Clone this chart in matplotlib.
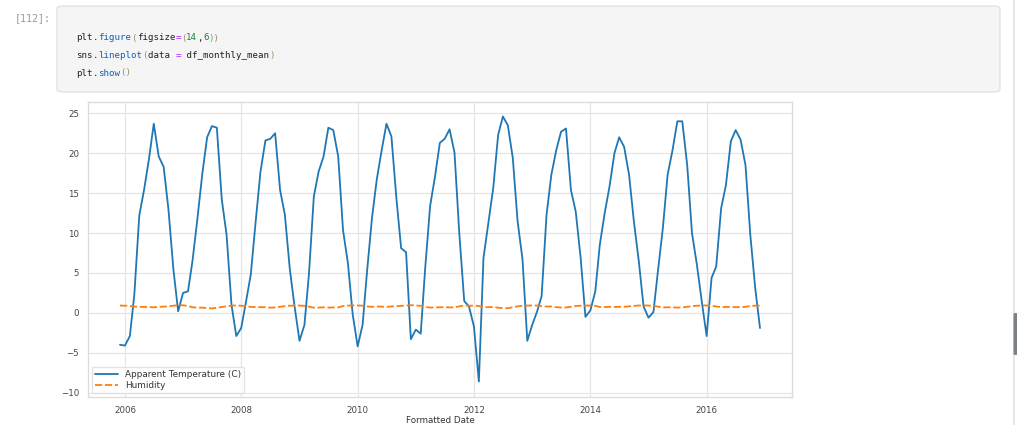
import matplotlib.dates as mdates
import matplotlib.patches as patches
import matplotlib.pyplot as plt
import pandas as pd
import seaborn as sns

# monthly means, Dec 2005 .. Dec 2016 (month start)
start_month = "2005-12-01"
end_month = "2016-12-01"

apparent_temp = [
    -4.0,
    -4.1, -2.9, 2.3, 12.2, 15.4, 19.3, 23.7, 19.6, 18.3, 13.0, 5.5, 0.2,  # 2006
    2.5, 2.7, 6.5, 11.8, 17.3, 22.0, 23.4, 23.2, 14.2, 9.8, 1.0, -2.9,  # 2007
    -1.9, 1.5, 4.8, 11.5, 17.7, 21.6, 21.8, 22.5, 15.4, 12.3, 5.5, 0.8,  # 2008
    -3.5, -1.5, 4.8, 14.6, 17.7, 19.6, 23.2, 22.9, 19.6, 10.4, 6.2, -0.2,  # 2009
    -4.2, -1.5, 5.2, 11.9, 16.7, 20.4, 23.7, 22.1, 14.4, 8.1, 7.6, -3.3,  # 2010
    -2.1, -2.6, 5.6, 13.4, 17.0, 21.3, 21.8, 23.0, 20.1, 10.0, 1.5, 0.8,  # 2011
    -1.7, -8.6, 6.9, 11.3, 15.6, 22.3, 24.6, 23.5, 19.4, 11.5, 6.7, -3.5,  # 2012
    -1.5, 0.2, 2.1, 12.3, 17.3, 20.4, 22.7, 23.1, 15.4, 12.7, 6.9, -0.5,  # 2013
    0.3, 2.7, 8.5, 12.5, 15.8, 20.0, 22.0, 20.8, 17.3, 11.5, 6.5, 0.8,  # 2014
    -0.6, 0.1, 5.2, 10.6, 17.3, 20.4, 24.0, 24.0, 18.5, 10.0, 6.0, 1.5,  # 2015
    -2.9, 4.4, 5.8, 13.1, 16.0, 21.5, 22.9, 21.7, 18.5, 9.8, 3.1, -1.9,  # 2016
]

humidity = [
    0.92,
    0.90, 0.86, 0.80, 0.76, 0.75, 0.73, 0.70, 0.76, 0.78, 0.82, 0.90, 0.95,  # 2006
    0.95, 0.86, 0.70, 0.66, 0.66, 0.60, 0.56, 0.63, 0.74, 0.82, 0.90, 0.93,  # 2007
    0.90, 0.82, 0.75, 0.72, 0.72, 0.72, 0.65, 0.68, 0.76, 0.84, 0.90, 0.92,  # 2008
    0.92, 0.88, 0.78, 0.65, 0.66, 0.70, 0.66, 0.68, 0.68, 0.85, 0.91, 0.93,  # 2009
    0.93, 0.90, 0.80, 0.76, 0.80, 0.78, 0.76, 0.80, 0.83, 0.88, 0.93, 0.96,  # 2010
    0.93, 0.88, 0.76, 0.66, 0.68, 0.70, 0.72, 0.68, 0.70, 0.82, 0.92, 0.90,  # 2011
    0.90, 0.86, 0.70, 0.72, 0.72, 0.65, 0.60, 0.58, 0.70, 0.82, 0.90, 0.92,  # 2012
    0.93, 0.92, 0.84, 0.80, 0.80, 0.72, 0.66, 0.68, 0.76, 0.86, 0.90, 0.92,  # 2013
    0.92, 0.88, 0.74, 0.73, 0.76, 0.74, 0.76, 0.76, 0.82, 0.88, 0.92, 0.93,  # 2014
    0.92, 0.88, 0.78, 0.68, 0.70, 0.70, 0.66, 0.68, 0.76, 0.84, 0.90, 0.92,  # 2015
    0.93, 0.88, 0.80, 0.72, 0.74, 0.76, 0.72, 0.72, 0.76, 0.85, 0.90, 0.92,  # 2016
]

code_lines = [
    [("plt", "k"), (".", "k"), ("figure", "b"), ("(", "p"), ("figsize", "k"),
     ("=", "o"), ("(", "p"), ("14", "n"), (",", "k"), ("6", "n"), ("))", "p")],
    [("sns", "k"), (".", "k"), ("lineplot", "b"), ("(", "p"), ("data ", "k"),
     ("=", "o"), (" df_monthly_mean", "k"), (")", "p")],
    [("plt", "k"), (".", "k"), ("show", "b"), ("()", "p")],
]
code_colors = {"k": "#222222", "b": "#1560b0", "p": "#9a8f6a", "o": "#aa22ff", "n": "#11883a"}

dates = pd.date_range(start_month, end_month, freq="MS")
df_monthly_mean = pd.DataFrame(
    {"Apparent Temperature (C)": apparent_temp, "Humidity": humidity}, index=dates
)
df_monthly_mean.index.name = "Formatted Date"

W, H = 1017, 432


def px(x, y):
    return x / W, 1 - y / H


sns.set_style("whitegrid", {"axes.edgecolor": "#dcdcdc", "grid.color": "#e6e6e6"})
fig = plt.figure(figsize=(W / 100, H / 100), dpi=100)

# notebook chrome: prompt, code cell, side bar
fig.text(*px(15, 18), "[112]:", family="DejaVu Sans Mono", fontsize=7.2,
         color="#9a9a9a", va="center", ha="left")
cell = patches.FancyBboxPatch(
    px(57, 92), 943 / W, 86 / H,
    boxstyle="round,pad=0,rounding_size=0.006",
    transform=fig.transFigure, facecolor="#f5f5f6", edgecolor="#dddddd", linewidth=0.8,
)
fig.patches.append(cell)
code_size = 6.6
char_w = code_size * 100 / 72 * 0.602  # monospace advance in pixels
for row, tokens in enumerate(code_lines):
    col = 0
    for tok, kind in tokens:
        fig.text(*px(76 + col * char_w, 38 + row * 17.5), tok, family="DejaVu Sans Mono",
                 fontsize=code_size, color=code_colors[kind], va="center", ha="left")
        col += len(tok)
fig.patches.append(patches.Rectangle(px(1013, 425), 2 / W, 425 / H, transform=fig.transFigure,
                                     facecolor="#e6e6e6", edgecolor="none"))
fig.patches.append(patches.FancyBboxPatch(px(1013.5, 355), 4 / W, 42 / H,
                                          boxstyle="round,pad=0,rounding_size=0.002",
                                          transform=fig.transFigure,
                                          facecolor="#7c8186", edgecolor="none"))

# the chart itself
ax = fig.add_axes([88 / W, (H - 397) / H, (792 - 88) / W, (397 - 102) / H])
sns.lineplot(data=df_monthly_mean, ax=ax, linewidth=1.3)
ax.set_ylim(-10.54, 26.42)
ax.xaxis.set_major_locator(mdates.YearLocator(2))
ax.xaxis.set_major_formatter(mdates.DateFormatter("%Y"))
ax.set_yticks([-10, -5, 0, 5, 10, 15, 20, 25])
ax.tick_params(labelsize=6.2, colors="#444444", pad=3)
ax.set_xlabel("Formatted Date", fontsize=6.3, color="#333333", labelpad=1)
ax.grid(True, linewidth=0.9)
for s in ax.spines.values():
    s.set_linewidth(1.0)
leg = ax.legend(loc="lower left", fontsize=6.4, frameon=True, borderaxespad=0.4,
                handlelength=2.6, labelspacing=0.3, borderpad=0.35)
leg.get_frame().set_edgecolor("#dddddd")
for t in leg.get_texts():
    t.set_color("#333333")

fig.savefig("out.png", dpi=100)
